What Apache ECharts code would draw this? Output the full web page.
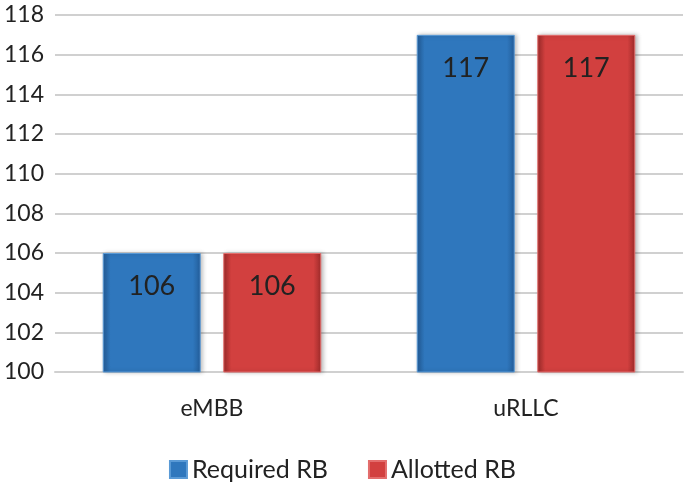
<!DOCTYPE html>
<html>
<head>
<meta charset="utf-8">
<script src="https://cdn.jsdelivr.net/npm/echarts@6/dist/echarts.min.js"></script>
<style>
  html, body { margin: 0; padding: 0; background: #fff; }
  #chart { width: 685px; height: 493px; }
</style>
</head>
<body>
<div id="chart"></div>
<script>
var categories = ['eMBB', 'uRLLC'];
var requiredRB = [106, 117];
var allottedRB = [106, 117];
var seriesNames = ['Required RB', 'Allotted RB'];

var FONT = 'Lato, "Open Sans", sans-serif';

// bevel-like fill: darker edges, lighter middle
function barFill(edge, mid) {
  return new echarts.graphic.LinearGradient(0, 0, 1, 0, [
    {offset: 0, color: edge},
    {offset: 0.08, color: mid},
    {offset: 0.92, color: mid},
    {offset: 1, color: edge}
  ]);
}

var labelStyle = {
  show: true,
  position: 'insideTop',
  distance: 20,
  color: '#222',
  fontSize: 27,
  fontFamily: FONT
};

var chart = echarts.init(document.getElementById('chart'));

var option = {
  backgroundColor: '#fff',
  animation: false,
  grid: { left: 55, right: 2, top: 15, bottom: 121 },
  legend: {
    bottom: 6,
    left: 'center',
    itemWidth: 17,
    itemHeight: 17,
    itemGap: 40,
    icon: 'rect',
    textStyle: { fontSize: 25, color: '#222', fontFamily: FONT },
    data: seriesNames
  },
  xAxis: {
    type: 'category',
    data: categories,
    axisTick: { show: false },
    axisLine: { lineStyle: { color: '#d0d0d0', width: 2 } },
    axisLabel: { fontSize: 23, color: '#222', margin: 25, fontFamily: FONT }
  },
  yAxis: {
    type: 'value',
    min: 100,
    max: 118,
    interval: 2,
    axisLine: { show: false },
    axisTick: { show: false },
    splitLine: { lineStyle: { color: '#d0d0d0', width: 2 } },
    axisLabel: { fontSize: 23, color: '#222', margin: 11, fontFamily: FONT }
  },
  series: [
    {
      name: seriesNames[0],
      type: 'bar',
      data: requiredRB,
      barWidth: 98,
      barGap: '23%',
      itemStyle: {
        color: barFill('#235d99', '#2f77bd'),
        borderColor: '#5a9ad6',
        borderWidth: 1,
        shadowColor: 'rgba(0,0,0,0.25)',
        shadowBlur: 4,
        shadowOffsetX: 2
      },
      label: labelStyle
    },
    {
      name: seriesNames[1],
      type: 'bar',
      data: allottedRB,
      barWidth: 98,
      itemStyle: {
        color: barFill('#9e2b2a', '#d2403f'),
        borderColor: '#e36d6c',
        borderWidth: 1,
        shadowColor: 'rgba(0,0,0,0.25)',
        shadowBlur: 4,
        shadowOffsetX: 2
      },
      label: labelStyle
    }
  ]
};

chart.setOption(option);
</script>
</body>
</html>
